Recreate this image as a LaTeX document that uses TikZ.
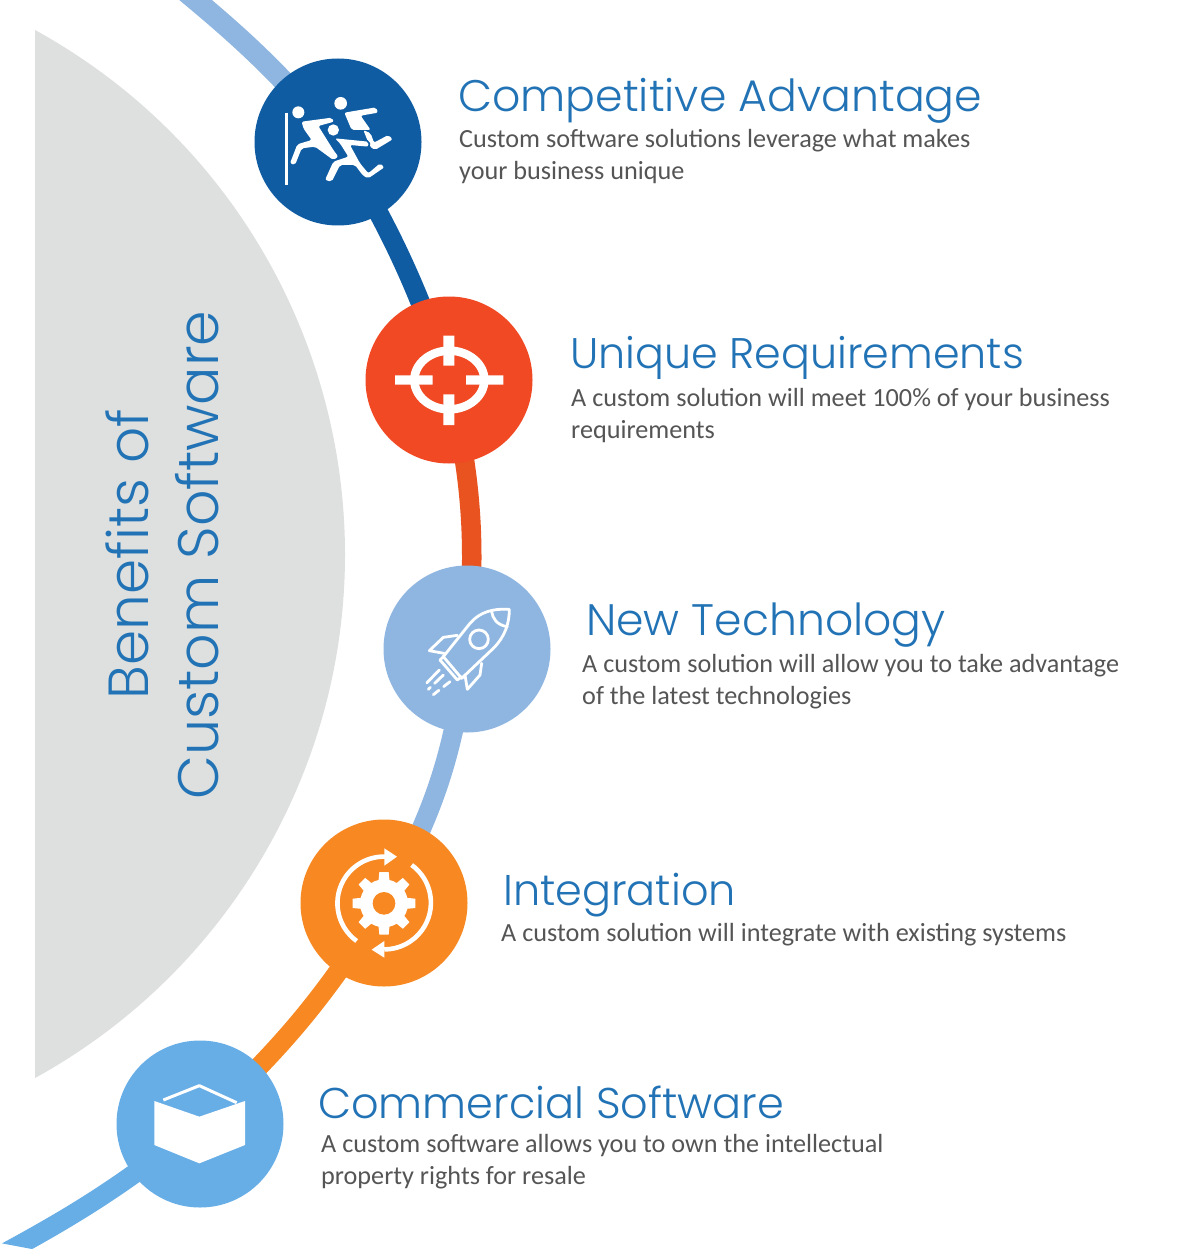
\documentclass[tikz,border=0pt]{standalone}
\usepackage{fontspec}
\usetikzlibrary{backgrounds}
\setmainfont{Carlito}
\newfontfamily\ttlfont{Poppins Light}
\definecolor{ttlblue}{HTML}{2273B5}
\definecolor{bodygray}{HTML}{555555}
\definecolor{cdark}{HTML}{0F5CA3}
\definecolor{cred}{HTML}{F04923}
\definecolor{credl}{HTML}{E8531F}
\definecolor{clight}{HTML}{8FB6E1}
\definecolor{corange}{HTML}{F78822}
\definecolor{csky}{HTML}{67ADE6}
\definecolor{cgray}{HTML}{DEE0DF}
\tikzset{
  disc/.style={circle,fill=#1,minimum size=167pt,inner sep=0pt,outer sep=0pt},
  link/.style={line width=19.5pt,draw=#1},
  ttl/.style={anchor=base west,inner sep=0pt,text=ttlblue,font=\fontsize{#1}{50}\ttlfont},
  bodytxt/.style={anchor=north west,inner sep=0pt,align=left,text=bodygray,font=\fontsize{26.2}{32}\selectfont},
  side/.style={anchor=base,inner sep=0pt,text=ttlblue,rotate=90,font=\fontsize{#1}{60}\ttlfont},
  ico/.style={draw=white,line cap=round,line join=round},
  rocketline/.style={ico,line width=2.8pt},
  halofill/.style={fill=white,rounded corners=2pt,preaction={draw=cdark,line width=3.5pt}},
}
\begin{document}
\begin{tikzpicture}[x=1pt,y=-1pt]
\useasboundingbox (0,0) rectangle (1199,1249);
\node[disc=cdark] (c1) at (338,142) {};
\node[disc=cred] (c2) at (449,380) {};
\node[disc=clight] (c3) at (467,649) {};
\node[disc=corange] (c4) at (384,903) {};
\node[disc=csky] (c5) at (200,1124) {};
\coordinate (top) at (186,-8);
\coordinate (bot) at (1,1255);
\begin{scope}[on background layer]
\fill[white] (0,0) rectangle (1199,1249);
\fill[cgray] (35,30) arc[start angle=-61.2,end angle=61.2,radius=598] -- cycle;
\clip (0,0) rectangle (1199,1249);
\draw[link=clight,line width=21pt] (top) to[bend left=5] (c1.center);
\draw[link=cdark] (c1.center) to[bend left=6] (c2.center);
\draw[link=credl] (c2.center) to[bend left=9] (c3.center);
\draw[link=clight] (c3.center) to[bend left=11] (c4.center);
\draw[link=corange] (c4.center) to[bend left=7.5] (c5.center);
\begin{scope}
\clip (0,1243) -- (32,1249) -- (220,1249) -- (220,1100) -- (0,1100) -- cycle;
\draw[link=csky] (c5.center) to[bend left=5] (bot);
\end{scope}
\end{scope}
% side title
\node[side=56.5] (s1) at (148,554) {Benefits of};
\node[side=57] (s2) at (218,555) {Custom Software};
% titles
\node[ttl=44.2] (t1) at (458,112) {Competitive Advantage};
\node[ttl=42.8] (t2) at (570,368) {Unique Requirements};
\node[ttl=44.1] (t3) at (586,635) {New Technology};
\node[ttl=43] (t4) at (503,905) {Integration};
\node[ttl=43] (t5) at (318,1118) {Commercial Software};
% bodies
\node[bodytxt] (b1) at (459,129) {Custom software solutions leverage what makes\\your business unique};
\node[bodytxt] (b2) at (571,388) {A custom solution will meet 100\% of your business\\requirements};
\node[bodytxt] (b3) at (582,654) {A custom solution will allow you to take advantage\\of the latest technologies};
\node[bodytxt] (b4) at (501,923) {A custom solution will integrate with existing systems};
\node[bodytxt] (b5) at (321,1134) {A custom software allows you to own the intellectual\\property rights for resale};
% icon 1: runners
\begin{scope}[shift={(250,50)},scale=1/3]
\draw[ico,line width=3pt,line cap=butt] (108,188) -- (108,404);
\fill[white] (145,187) circle[radius=18] (272,160) circle[radius=19];
% runner 2
\fill[white,rounded corners=2pt] (283,188) -- (378,172) -- (384,188) -- (332,197) -- (362,240) -- (305,240) -- cycle;
\fill[white,rounded corners=2pt] (340,240) -- (362,250) -- (372,278) -- (415,255) -- (428,268) -- (375,300) -- (360,290) -- cycle;
% runner 1
\fill[white,rounded corners=2pt] (155,215) -- (245,203) -- (252,215) -- (205,228) -- (250,300) -- (265,320) -- (250,330) -- (195,290) -- (155,295) -- (135,345) -- (120,340) -- (142,283) -- (185,270) -- (160,235) -- cycle;
% runner 3
\path[halofill] (255,265) -- (355,275) -- (355,290) -- (300,285) -- (330,340) -- (355,370) -- (390,340) -- (403,352) -- (355,385) -- (340,378) -- (315,345) -- (270,345) -- (245,395) -- (225,390) -- (250,335) -- (295,320) -- (270,280) -- cycle;
\path[halofill] (250,240) circle[radius=17];
\end{scope}
% icon 2: target
\begin{scope}[shift={(360,295)},scale=1/3]
\draw[white,line width=8.5pt] (268,255) ellipse[x radius=105,y radius=88];
\fill[white] (105,241) rectangle (218,269) (318,241) rectangle (430,269)
  (250,122) rectangle (283,212) (250,298) rectangle (283,390);
\end{scope}
% icon 3: rocket
\begin{scope}[shift={(380,560)},scale=1/3]
\draw[rocketline] (388,148) .. controls (340,145) and (300,155) .. (270,190) -- (190,290) -- (245,355)
  -- (340,265) .. controls (375,230) and (388,190) .. (388,148);
\draw[rocketline] (335,155) .. controls (338,175) and (350,195) .. (382,200);
\draw[rocketline] (297,238) circle[radius=28];
\draw[rocketline] (232,226) -- (190,232) -- (148,272) -- (192,280);
\draw[rocketline] (305,310) -- (300,345) -- (262,388) -- (255,345);
\draw[rocketline] (192,288) -- (180,300) -- (232,360) -- (245,350);
\draw[rocketline,dash pattern=on 18pt off 5pt] (178,330) -- (135,374);
\draw[rocketline,dash pattern=on 12pt off 6pt] (190,345) -- (145,388);
\draw[rocketline,dash pattern=on 8pt off 6pt] (210,365) -- (160,404);
\end{scope}
% icon 4: gear
\begin{scope}[shift={(295,815)},scale=1/3]
\fill[white] (267,265) circle[radius=72];
\foreach \a in {0,45,...,315}{
  \fill[white,shift={(267,265)},rotate=\a] (62,-17) -- (94,-14) -- (94,14) -- (62,17) -- cycle;
}
\fill[corange] (267,265) circle[radius=34];
\draw[white,line width=4.6pt] (185,378) arc[start angle=126,end angle=275,radius=140];
\draw[white,line width=4.6pt] (350,150) arc[start angle=-54,end angle=90,radius=140];
\fill[white] (268,100) -- (306,125) -- (268,152) -- cycle;
\fill[white] (268,378) -- (230,404) -- (268,428) -- cycle;
\end{scope}
% icon 5: box
\begin{scope}[shift={(110,1035)},scale=1/3]
\fill[white] (133,198) -- (268,245) -- (405,198) -- (405,330) -- (268,385) -- (133,330) -- cycle;
\draw[white,line width=3pt,line join=round] (160,195) -- (268,152) -- (380,203);
\end{scope}
\end{tikzpicture}
\end{document}
